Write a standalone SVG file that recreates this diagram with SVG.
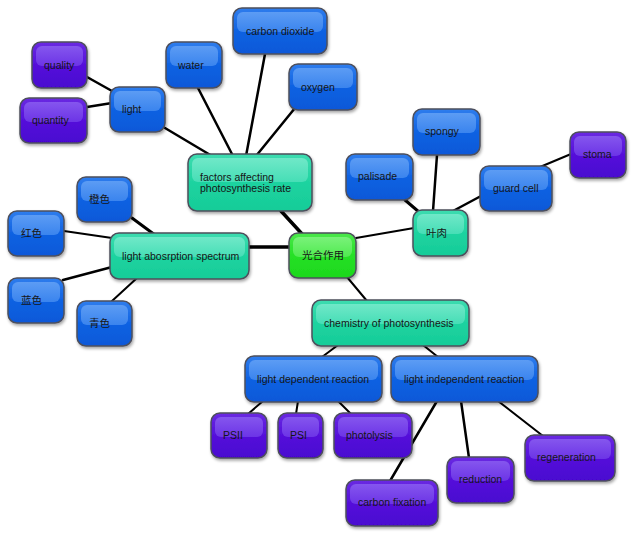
<svg xmlns="http://www.w3.org/2000/svg" width="640" height="539" viewBox="0 0 640 539">
<defs>
  <linearGradient id="gBlue" x1="0" y1="0" x2="0" y2="1">
    <stop offset="0" stop-color="#2f7ded"/><stop offset="0.5" stop-color="#0f62e2"/><stop offset="1" stop-color="#0a58d8"/>
  </linearGradient>
  <linearGradient id="hBlue" x1="0" y1="0" x2="0" y2="1">
    <stop offset="0" stop-color="#5c9cf4"/><stop offset="1" stop-color="#3a84ee"/>
  </linearGradient>
  <linearGradient id="gPurple" x1="0" y1="0" x2="0" y2="1">
    <stop offset="0" stop-color="#6a2ae2"/><stop offset="0.5" stop-color="#5410da"/><stop offset="1" stop-color="#4a06d0"/>
  </linearGradient>
  <linearGradient id="hPurple" x1="0" y1="0" x2="0" y2="1">
    <stop offset="0" stop-color="#8556ee"/><stop offset="1" stop-color="#6c34e6"/>
  </linearGradient>
  <linearGradient id="gTeal" x1="0" y1="0" x2="0" y2="1">
    <stop offset="0" stop-color="#3ddcb0"/><stop offset="0.5" stop-color="#1ed3a0"/><stop offset="1" stop-color="#16cc98"/>
  </linearGradient>
  <linearGradient id="hTeal" x1="0" y1="0" x2="0" y2="1">
    <stop offset="0" stop-color="#70e8c8"/><stop offset="1" stop-color="#46deb6"/>
  </linearGradient>
  <linearGradient id="gGreen" x1="0" y1="0" x2="0" y2="1">
    <stop offset="0" stop-color="#4be84b"/><stop offset="0.5" stop-color="#26e026"/><stop offset="1" stop-color="#1cd81c"/>
  </linearGradient>
  <linearGradient id="hGreen" x1="0" y1="0" x2="0" y2="1">
    <stop offset="0" stop-color="#7af27a"/><stop offset="1" stop-color="#50ea50"/>
  </linearGradient>
  <filter id="shadow" x="-20%" y="-20%" width="140%" height="150%">
    <feDropShadow dx="1" dy="2" stdDeviation="1.5" flood-color="#000" flood-opacity="0.35"/>
  </filter>
</defs>
<style>
  .node .body { stroke: #4d4f5c; stroke-width: 1.5; filter: url(#shadow); }
  .node .hl { stroke: none; }
  .blue .body { fill: url(#gBlue); }
  .blue .hl { fill: url(#hBlue); }
  .purple .body { fill: url(#gPurple); }
  .purple .hl { fill: url(#hPurple); }
  .teal .body { fill: url(#gTeal); }
  .teal .hl { fill: url(#hTeal); }
  .green .body { fill: url(#gGreen); }
  .green .hl { fill: url(#hGreen); }
  .node text { font-family: "Liberation Sans", Arial, "Noto Sans CJK SC", sans-serif; font-size: 10.5px; fill: #151515; }
  .node text.cjk { font-family: "Noto Sans CJK SC", "Liberation Sans", sans-serif; }
  #connectors line { stroke: #000; stroke-linecap: round; }
</style>

<g id="connectors">
  <line x1="87" y1="77" x2="112" y2="91" stroke-width="2.5"/>
  <line x1="87" y1="107" x2="112" y2="103" stroke-width="2.5"/>
  <line x1="165" y1="128" x2="212" y2="156" stroke-width="2.5"/>
  <line x1="198" y1="88" x2="233" y2="156" stroke-width="2.5"/>
  <line x1="265" y1="54" x2="246" y2="156" stroke-width="2.5"/>
  <line x1="295" y1="108" x2="256" y2="156" stroke-width="2.5"/>
  <line x1="281" y1="211" x2="303" y2="235" stroke-width="3.5"/>
  <line x1="132" y1="218" x2="155" y2="235" stroke-width="3"/>
  <line x1="64" y1="231" x2="112" y2="238" stroke-width="2"/>
  <line x1="63" y1="280" x2="112" y2="267" stroke-width="2.5"/>
  <line x1="112" y1="301" x2="137" y2="278" stroke-width="2"/>
  <line x1="249" y1="247" x2="290" y2="247" stroke-width="3.5"/>
  <line x1="356" y1="238" x2="414" y2="228" stroke-width="2"/>
  <line x1="405" y1="200" x2="419" y2="212" stroke-width="3"/>
  <line x1="437" y1="155" x2="433" y2="211" stroke-width="2.5"/>
  <line x1="481" y1="196" x2="453" y2="211" stroke-width="2.5"/>
  <line x1="571" y1="154" x2="540" y2="167" stroke-width="2"/>
  <line x1="347" y1="277" x2="367" y2="301" stroke-width="2"/>
  <line x1="338" y1="345" x2="322" y2="357" stroke-width="2"/>
  <line x1="423" y1="345" x2="438" y2="357" stroke-width="2"/>
  <line x1="263" y1="401" x2="248" y2="414" stroke-width="2"/>
  <line x1="298" y1="401" x2="296" y2="414" stroke-width="2"/>
  <line x1="338" y1="401" x2="351" y2="414" stroke-width="2"/>
  <line x1="437" y1="401" x2="390" y2="481" stroke-width="2.5"/>
  <line x1="461" y1="401" x2="469" y2="458" stroke-width="2.5"/>
  <line x1="498" y1="401" x2="543" y2="436" stroke-width="2"/>
</g>

<g id="n-quality" class="node purple"><rect class="body" x="32" y="42" width="55" height="46" rx="9"/><rect class="hl" x="36" y="46" width="47" height="20" rx="6"/><text x="44" y="68.5">quality</text></g>
<g id="n-quantity" class="node purple"><rect class="body" x="20" y="98" width="67" height="45" rx="9"/><rect class="hl" x="24" y="102" width="59" height="20" rx="6"/><text x="32" y="124">quantity</text></g>
<g id="n-light" class="node blue"><rect class="body" x="110" y="87" width="55" height="45" rx="9"/><rect class="hl" x="114" y="91" width="47" height="20" rx="6"/><text x="122" y="113">light</text></g>
<g id="n-water" class="node blue"><rect class="body" x="166" y="42" width="56" height="46" rx="9"/><rect class="hl" x="170" y="46" width="48" height="20" rx="6"/><text x="178" y="68.5">water</text></g>
<g id="n-co2" class="node blue"><rect class="body" x="233" y="8" width="94" height="46" rx="9"/><rect class="hl" x="237" y="12" width="86" height="20" rx="6"/><text x="246" y="34.5">carbon dioxide</text></g>
<g id="n-oxygen" class="node blue"><rect class="body" x="289" y="64" width="68" height="46" rx="9"/><rect class="hl" x="293" y="68" width="60" height="20" rx="6"/><text x="301" y="90.5">oxygen</text></g>
<g id="n-factors" class="node teal"><rect class="body" x="188" y="154" width="124" height="57" rx="9"/><rect class="hl" x="192" y="158" width="116" height="24" rx="6"/><text x="200" y="181">factors affecting</text><text x="200" y="192">photosynthesis rate</text></g>

<g id="n-orange" class="node blue"><rect class="body" x="77" y="177" width="55" height="45" rx="9"/><rect class="hl" x="81" y="181" width="47" height="20" rx="6"/><text class="cjk" x="89" y="202.5">橙色</text></g>
<g id="n-red" class="node blue"><rect class="body" x="8" y="211" width="56" height="45" rx="9"/><rect class="hl" x="12" y="215" width="48" height="20" rx="6"/><text class="cjk" x="21" y="236.5">红色</text></g>
<g id="n-spectrum" class="node teal"><rect class="body" x="110" y="233" width="139" height="46" rx="9"/><rect class="hl" x="114" y="237" width="131" height="20" rx="6"/><text x="122" y="259.5">light abosrption spectrum</text></g>
<g id="n-photosynthesis" class="node green"><rect class="body" x="289" y="233" width="67" height="45" rx="9"/><rect class="hl" x="293" y="237" width="59" height="20" rx="6"/><text class="cjk" x="302" y="258.5">光合作用</text></g>
<g id="n-blue" class="node blue"><rect class="body" x="8" y="278" width="56" height="45" rx="9"/><rect class="hl" x="12" y="282" width="48" height="20" rx="6"/><text class="cjk" x="21" y="303.5">蓝色</text></g>
<g id="n-cyan" class="node blue"><rect class="body" x="77" y="301" width="55" height="45" rx="9"/><rect class="hl" x="81" y="305" width="47" height="20" rx="6"/><text class="cjk" x="89" y="326.5">青色</text></g>

<g id="n-spongy" class="node blue"><rect class="body" x="413" y="109" width="67" height="46" rx="9"/><rect class="hl" x="417" y="113" width="59" height="20" rx="6"/><text x="425" y="135">spongy</text></g>
<g id="n-palisade" class="node blue"><rect class="body" x="346" y="154" width="67" height="46" rx="9"/><rect class="hl" x="350" y="158" width="59" height="20" rx="6"/><text x="358" y="180">palisade</text></g>
<g id="n-guardcell" class="node blue"><rect class="body" x="480" y="166" width="72" height="45" rx="9"/><rect class="hl" x="484" y="170" width="64" height="20" rx="6"/><text x="493" y="191.5">guard cell</text></g>
<g id="n-stoma" class="node purple"><rect class="body" x="570" y="132" width="56" height="46" rx="9"/><rect class="hl" x="574" y="136" width="48" height="20" rx="6"/><text x="583" y="157.5">stoma</text></g>
<g id="n-mesophyll" class="node teal"><rect class="body" x="413" y="210" width="55" height="46" rx="9"/><rect class="hl" x="417" y="214" width="47" height="20" rx="6"/><text class="cjk" x="426" y="236.5">叶肉</text></g>

<g id="n-chemistry" class="node teal"><rect class="body" x="312" y="300" width="157" height="46" rx="9"/><rect class="hl" x="316" y="304" width="149" height="20" rx="6"/><text x="324" y="326.5">chemistry of photosynthesis</text></g>
<g id="n-lightdep" class="node blue"><rect class="body" x="245" y="356" width="137" height="46" rx="9"/><rect class="hl" x="249" y="360" width="129" height="20" rx="6"/><text x="257" y="382.5">light dependent reaction</text></g>
<g id="n-lightindep" class="node blue"><rect class="body" x="391" y="356" width="147" height="46" rx="9"/><rect class="hl" x="395" y="360" width="139" height="20" rx="6"/><text x="404" y="382.5">light independent reaction</text></g>
<g id="n-psii" class="node purple"><rect class="body" x="211" y="413" width="56" height="45" rx="9"/><rect class="hl" x="215" y="417" width="48" height="20" rx="6"/><text x="223" y="438.5">PSII</text></g>
<g id="n-psi" class="node purple"><rect class="body" x="278" y="413" width="45" height="45" rx="9"/><rect class="hl" x="282" y="417" width="37" height="20" rx="6"/><text x="290" y="438.5">PSI</text></g>
<g id="n-photolysis" class="node purple"><rect class="body" x="334" y="413" width="78" height="45" rx="9"/><rect class="hl" x="338" y="417" width="70" height="20" rx="6"/><text x="346" y="438.5">photolysis</text></g>
<g id="n-cfix" class="node purple"><rect class="body" x="346" y="480" width="92" height="46" rx="9"/><rect class="hl" x="350" y="484" width="84" height="20" rx="6"/><text x="358" y="506">carbon fixation</text></g>
<g id="n-reduction" class="node purple"><rect class="body" x="447" y="457" width="67" height="46" rx="9"/><rect class="hl" x="451" y="461" width="59" height="20" rx="6"/><text x="459" y="483">reduction</text></g>
<g id="n-regeneration" class="node purple"><rect class="body" x="525" y="435" width="90" height="46" rx="9"/><rect class="hl" x="529" y="439" width="82" height="20" rx="6"/><text x="537" y="461">regeneration</text></g>
</svg>
